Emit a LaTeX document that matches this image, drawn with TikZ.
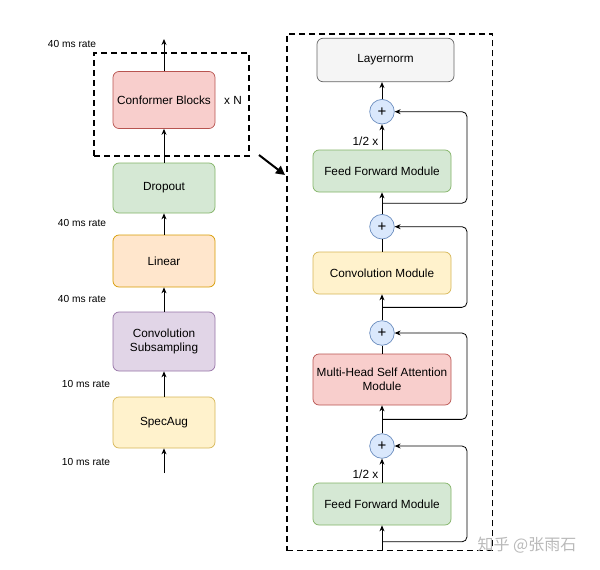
\documentclass[tikz,border=0pt]{standalone}
\usepackage{fontspec}
\setmainfont{Liberation Sans}
\newfontfamily\cjk{Noto Sans CJK SC}
\usetikzlibrary{calc,positioning,arrows.meta}
\definecolor{redf}{HTML}{F8CECC}
\definecolor{redd}{HTML}{B85450}
\definecolor{greenf}{HTML}{D5E8D4}
\definecolor{greend}{HTML}{82B366}
\definecolor{orangef}{HTML}{FFE6CC}
\definecolor{oranged}{HTML}{D79B00}
\definecolor{purplef}{HTML}{E1D5E7}
\definecolor{purpled}{HTML}{9673A6}
\definecolor{yellowf}{HTML}{FFF2CC}
\definecolor{yellowd}{HTML}{D6B656}
\definecolor{grayf}{HTML}{F5F5F5}
\definecolor{grayd}{HTML}{666666}
\definecolor{sumf}{HTML}{DAE8FC}
\definecolor{sumd}{HTML}{6C8EBF}

\begin{document}
\begin{tikzpicture}[x=1pt, y=1pt, >={Stealth[length=6pt, width=5pt]}, line width=0.8pt,
	font=\fontsize{11.8}{14}\selectfont,
	block/.style={rectangle, rounded corners=6pt, draw, line width=0.7pt, minimum width=102pt, minimum height=52pt, align=center, inner sep=2pt},
	module/.style={block, minimum width=138pt, minimum height=42pt},
	summ/.style={circle, draw=sumd, fill=sumf, line width=0.7pt, minimum size=24.6pt, inner sep=0pt, font=\fontsize{15}{15}\selectfont},
	rate/.style={font=\fontsize{10.2}{12}\selectfont},
	dashbox/.style={rectangle, draw, line width=1.6pt, dash pattern=on 6pt off 4pt}]
	 \useasboundingbox (0,0) rectangle (600,-570);

	 % input stack
	 \node[block, fill=redf, draw=redd, minimum height=57pt] (conformer) at (164,-100) {Conformer Blocks};
	 \node[block, fill=greenf, draw=greend, below of=conformer, node distance=88pt, minimum height=50pt] (dropout) {Dropout};
	 \node[block, fill=orangef, draw=oranged, below of=dropout, node distance=73pt] (linear) {Linear};
	 \node[block, fill=purplef, draw=purpled, below of=linear, node distance=80.5pt, minimum height=59pt] (subsampling) {Convolution\\Subsampling};
	 \node[block, fill=yellowf, draw=yellowd, below of=subsampling, node distance=81pt, minimum height=51pt] (specaug) {SpecAug};
	 \node[coordinate] (output) at (164,-39) {};
	 \node[coordinate] (input) at (164,-473) {};
	 \node[dashbox, minimum width=155pt, minimum height=103pt] (stack) at (171.5,-104.5) {};
	 \node (repeat) at (233,-100) {x N};

	 \draw[->] (conformer) -- (output);
	 \draw[->] (dropout) -- (conformer);
	 \draw[->] (linear) -- (dropout);
	 \draw[->] (subsampling) -- (linear);
	 \draw[->] (specaug) -- (subsampling);
	 \draw[->] (input) -- (specaug);

	 \node[rate] (rateout) at (72,-44) {40 ms rate};
	 \node[rate] (ratelin) at (82,-223) {40 ms rate};
	 \node[rate] (ratesub) at (82,-299) {40 ms rate};
	 \node[rate] (ratespec) at (86,-384) {10 ms rate};
	 \node[rate] (ratein) at (86,-462) {10 ms rate};

	 % one conformer block
	 \node[block, fill=grayf, draw=grayd, minimum width=137pt, minimum height=43.5pt] (layernorm) at (385.5,-60) {Layernorm};
	 \node[summ] (sumffout) at (382,-111.7) {+};
	 \node[module, fill=greenf, draw=greend, below of=sumffout, node distance=59.3pt] (ffout) {Feed Forward Module};
	 \node[summ, below of=ffout, node distance=55.7pt] (sumconv) {+};
	 \node[module, fill=yellowf, draw=yellowd, below of=sumconv, node distance=46.3pt] (conv) {Convolution Module};
	 \node[summ, below of=conv, node distance=60pt] (summhsa) {+};
	 \node[module, fill=redf, draw=redd, below of=summhsa, node distance=46.5pt, minimum height=51pt] (mhsa) {Multi-Head Self Attention\\Module};
	 \node[summ, below of=mhsa, node distance=66.5pt] (sumffin) {+};
	 \node[module, fill=greenf, draw=greend, below of=sumffin, node distance=58pt] (ffin) {Feed Forward Module};
	 \node[coordinate] (blockin) at (382,-550.7) {};
	 \node[dashbox, minimum width=205.7pt, minimum height=516.7pt] (detail) at (389.8,-292.3) {};

	 \draw[->] (blockin) -- node[coordinate, pos=0.35] (skipffin) {} (ffin);
	 \draw[->] (ffin) -- node[left, pos=0.35] {1/2 x} (sumffin);
	 \draw[->] (sumffin) -- node[coordinate] (skipmhsa) {} (mhsa);
	 \draw (mhsa) -- (summhsa);
	 \draw[->] (summhsa) -- node[coordinate] (skipconv) {} (conv);
	 \draw (conv) -- (sumconv);
	 \draw[->] (sumconv) -- node[coordinate] (skipffout) {} (ffout);
	 \draw[->] (ffout) -- node[left, pos=0.35] {1/2 x} (sumffout);
	 \draw[->] (sumffout) -- (sumffout |- layernorm.south);

	 % residual paths
	 \draw[->, rounded corners=5pt] (skipffin) -- ++(85,0) |- (sumffin);
	 \draw[->, rounded corners=5pt] (skipmhsa) -- ++(85,0) |- (summhsa);
	 \draw[->, rounded corners=5pt] (skipconv) -- ++(85,0) |- (sumconv);
	 \draw[->, rounded corners=5pt] (skipffout) -- ++(85,0) |- (sumffout);

	 % zoom arrow
	 \node[coordinate] (zoomfrom) at (259,-155) {};
	 \node[coordinate] (zoomto) at (285,-175) {};
	 \draw[-{Triangle[length=9pt, width=9pt]}, line width=2pt] (zoomfrom) -- (zoomto);

	 \node[text=gray!55, font=\cjk\fontsize{16}{18}\selectfont] (mark) at (527,-545) {知乎 @张雨石};
\end{tikzpicture}
\end{document}
